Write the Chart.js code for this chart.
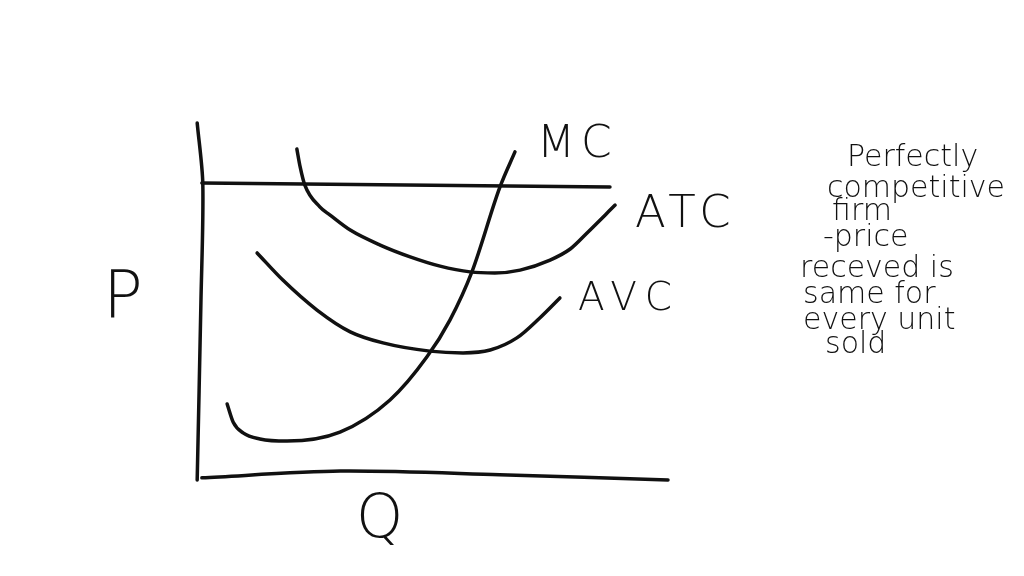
<!DOCTYPE html>
<html>
<head>
<meta charset="utf-8">
<title>Perfectly competitive firm</title>
<script src="https://cdn.jsdelivr.net/npm/chart.js@4.4.1/dist/chart.umd.min.js"></script>
<style>
  html, body { margin: 0; padding: 0; background: #ffffff; }
  #wrap { width: 1024px; height: 576px; }
</style>
</head>
<body>
<div id="wrap"><canvas id="myChart" width="1024" height="576"></canvas></div>
<script>
//quantity (Q) and price (P), Q and P both 0..10
var mcQ  = [0.58, 0.71, 0.92, 1.28, 1.86, 2.99, 4.06, 4.85, 5.34, 5.81, 6.41, 6.73];
var mcP  = [2.13, 1.62, 1.32, 1.15, 1.09, 1.34, 2.24, 3.45, 4.48, 5.83, 8.21, 9.19];

var atcQ = [2.07, 2.14, 2.24, 2.56, 2.78, 3.21, 3.85, 4.49, 5.13, 5.77, 6.30, 6.84, 7.48, 7.91, 8.27, 8.87];
var atcP = [9.27, 8.77, 8.26, 7.65, 7.42, 7.00, 6.58, 6.25, 5.99, 5.83, 5.80, 5.88, 6.16, 6.47, 6.92, 7.70];

var avcQ = [1.22, 1.77, 2.50, 3.21, 3.91, 4.91, 5.62, 6.20, 6.77, 7.26, 7.69];
var avcP = [6.36, 5.60, 4.76, 4.15, 3.84, 3.61, 3.56, 3.64, 3.98, 4.54, 5.10];

//price received, the flat line
var priceQ = [0.04, 8.76];
var priceP = [8.32, 8.21];

//hand drawn axes
var pAxisQ = [-0.06, 0.06, 0.02, -0.06];
var pAxisP = [10.0, 8.3, 5.0, 0.0];
var qAxisQ = [0.04, 3.0, 6.4, 10.0];
var qAxisP = [0.06, 0.25, 0.15, 0.0];

//curve names and the note on the right
var curveLabels = ['MC', 'ATC', 'AVC'];
var axisLabels = ['P', 'Q'];
var noteLines = ['Perfectly', 'competitive', 'firm', '-price', 'receved is', 'same for', 'every unit', 'sold'];

var INK = '#111111';

/**
 * @function toPoints - zips two arrays into chart.js points
 */
function toPoints(xs, ys){
  var pts = [];
  for(var i = 0; i < xs.length; i++){
    pts.push({x: xs[i], y: ys[i]});
  }
  return pts;
}

function curve(label, xs, ys, tension, mono){
  return {
    label: label,
    data: toPoints(xs, ys),
    borderColor: INK,
    borderWidth: 3.5,
    borderCapStyle: 'round',
    borderJoinStyle: 'round',
    pointRadius: 0,
    fill: false,
    clip: false,
    showLine: true,
    tension: tension,
    cubicInterpolationMode: mono ? 'monotone' : 'default'
  };
}

//labels are placed by hand, same as the sketch
var textPlugin = {
  id: 'sketchText',
  afterDraw: function(chart){
    var ctx = chart.ctx;
    ctx.save();
    ctx.fillStyle = INK;
    ctx.textBaseline = 'alphabetic';
    ctx.textAlign = 'left';

    var put = function(str, x, y, size, spacing, maxW){
      ctx.font = '300 ' + size + 'px "DejaVu Sans", sans-serif';
      ctx.letterSpacing = (spacing || 0) + 'px';
      if(maxW){ ctx.fillText(str, x, y, maxW); }
      else { ctx.fillText(str, x, y); }
    };

    //curve labels
    put(curveLabels[0], 537, 157, 44, 6, 104);
    put(curveLabels[1], 635, 227, 45, 6, 112);
    put(curveLabels[2], 578, 310, 39, 8, 110);

    //axis labels
    put(axisLabels[0], 103, 318, 66, 0);
    put(axisLabels[1], 356, 537, 60, 0);

    //note
    var noteX = [847, 827, 832, 823, 800, 803, 803, 825];
    var noteY = [166, 197, 220, 246, 277, 303, 329, 353];
    var noteW = [150, 178, 82, 112, 158, 134, 160, 63];
    for(var i = 0; i < noteLines.length; i++){
      put(noteLines[i], noteX[i], noteY[i], 30, 0, noteW[i]);
    }
    ctx.restore();
  }
};

var chart = new Chart(document.getElementById('myChart'), {
  type: 'scatter',
  data: {
    datasets: [
      curve('P axis', pAxisQ, pAxisP, 0.3, false),
      curve('Q axis', qAxisQ, qAxisP, 0.3, false),
      curve('Price', priceQ, priceP, 0, false),
      curve('MC', mcQ, mcP, 0.4, true),
      curve('ATC', atcQ, atcP, 0.4, true),
      curve('AVC', avcQ, avcP, 0.4, true)
    ]
  },
  options: {
    responsive: false,
    animation: false,
    layout: {
      padding: {left: 200, right: 356, top: 123, bottom: 96}
    },
    scales: {
      x: {type: 'linear', min: 0, max: 10, display: false},
      y: {type: 'linear', min: 0, max: 10, display: false}
    },
    plugins: {
      legend: {display: false},
      tooltip: {enabled: false}
    }
  },
  plugins: [textPlugin]
});
</script>
</body>
</html>
